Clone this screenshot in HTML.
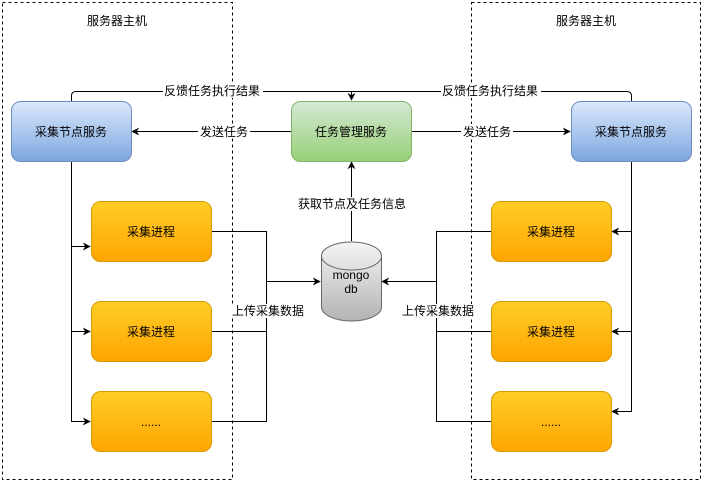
<!DOCTYPE html>
<html><head><meta charset="utf-8"><style>
body{margin:0;background:#fff;}
svg text{font-family:"Liberation Sans","Noto Sans CJK SC",sans-serif;font-size:12px;fill:#000;}
</style></head><body>
<svg width="703" height="483" viewBox="0 0 703 483" xmlns="http://www.w3.org/2000/svg">
<defs>
<linearGradient id="b" x1="0" y1="0" x2="0" y2="1"><stop offset="0" stop-color="#dae8fc"/><stop offset="1" stop-color="#7ea6e0"/></linearGradient>
<linearGradient id="g" x1="0" y1="0" x2="0" y2="1"><stop offset="0" stop-color="#d5e8d4"/><stop offset="1" stop-color="#97d077"/></linearGradient>
<linearGradient id="o" x1="0" y1="0" x2="0" y2="1"><stop offset="0" stop-color="#ffcd28"/><stop offset="1" stop-color="#ffa500"/></linearGradient>
<linearGradient id="c" x1="0" y1="0" x2="0" y2="1"><stop offset="0" stop-color="#f5f5f5"/><stop offset="1" stop-color="#b3b3b3"/></linearGradient>
<marker id="a" viewBox="0 0 10 10" refX="9" refY="5" markerWidth="8" markerHeight="8" orient="auto" markerUnits="userSpaceOnUse"><path d="M0,0 L10,5 L0,10 L3,5 Z" fill="#000"/></marker>
</defs>
<rect x="2.5" y="2.5" width="230" height="477" fill="none" stroke="#000" stroke-dasharray="3,3"/>
<rect x="471.5" y="2.5" width="229" height="477" fill="none" stroke="#000" stroke-dasharray="3,3"/>
<text x="117" y="25" text-anchor="middle">服务器主机</text>
<text x="586" y="25" text-anchor="middle">服务器主机</text>
<g fill="none" stroke="#000" stroke-width="1">
<path d="M71.5,101 V96 Q71.5,91.5 76,91.5 H351.5 V100" marker-end="url(#a)"/>
<path d="M631.5,101 V96 Q631.5,91.5 627,91.5 H351.5"/>
<path d="M291,131.5 H132" marker-end="url(#a)"/>
<path d="M411,131.5 H570" marker-end="url(#a)"/>
<path d="M351.5,241 V162" marker-end="url(#a)"/>
<path d="M71.5,161 V421.5 H90" marker-end="url(#a)"/>
<path d="M71.5,246.5 H90" marker-end="url(#a)"/>
<path d="M71.5,331.5 H90" marker-end="url(#a)"/>
<path d="M631.5,161 V411.5 H612" marker-end="url(#a)"/>
<path d="M631.5,231.5 H612" marker-end="url(#a)"/>
<path d="M631.5,331.5 H612" marker-end="url(#a)"/>
<path d="M211,231.5 H266.5 V421.5 H211 M211,331.5 H266.5"/>
<path d="M266.5,281.5 H320" marker-end="url(#a)"/>
<path d="M491,231.5 H436.5 V421.5 H491 M491,331.5 H436.5"/>
<path d="M436.5,281.5 H382" marker-end="url(#a)"/>
</g>
<g font-size="12">
<rect x="163" y="84" width="100" height="14" fill="#fff"/><text x="212" y="95" text-anchor="middle">反馈任务执行结果</text>
<rect x="441" y="84" width="100" height="14" fill="#fff"/><text x="490" y="95" text-anchor="middle">反馈任务执行结果</text>
<rect x="198" y="124" width="52" height="14" fill="#fff"/><text x="224" y="136" text-anchor="middle">发送任务</text>
<rect x="461" y="124" width="52" height="14" fill="#fff"/><text x="487" y="136" text-anchor="middle">发送任务</text>
<rect x="300" y="197" width="104" height="14" fill="#fff"/><text x="352" y="208" text-anchor="middle">获取节点及任务信息</text>
<rect x="231" y="304" width="74" height="14" fill="#fff"/><text x="268" y="315" text-anchor="middle">上传采集数据</text>
<rect x="401" y="304" width="74" height="14" fill="#fff"/><text x="438" y="315" text-anchor="middle">上传采集数据</text>
</g>
<rect x="11.5" y="101.5" width="120" height="60" rx="9" fill="url(#b)" stroke="#6c8ebf"/>
<text x="71" y="136" text-anchor="middle">采集节点服务</text>
<rect x="571.5" y="101.5" width="120" height="60" rx="9" fill="url(#b)" stroke="#6c8ebf"/>
<text x="631" y="136" text-anchor="middle">采集节点服务</text>
<rect x="291.5" y="101.5" width="120" height="60" rx="9" fill="url(#g)" stroke="#82b366"/>
<text x="351" y="136" text-anchor="middle">任务管理服务</text>
<g stroke="#d79b00">
<rect x="91.5" y="201.5" width="120" height="60" rx="9" fill="url(#o)"/>
<rect x="91.5" y="301.5" width="120" height="60" rx="9" fill="url(#o)"/>
<rect x="91.5" y="391.5" width="120" height="60" rx="9" fill="url(#o)"/>
<rect x="491.5" y="201.5" width="120" height="60" rx="9" fill="url(#o)"/>
<rect x="491.5" y="301.5" width="120" height="60" rx="9" fill="url(#o)"/>
<rect x="491.5" y="391.5" width="120" height="60" rx="9" fill="url(#o)"/>
</g>
<text x="151" y="236" text-anchor="middle">采集进程</text>
<text x="151" y="336" text-anchor="middle">采集进程</text>
<text x="151" y="426" text-anchor="middle">......</text>
<text x="551" y="236" text-anchor="middle">采集进程</text>
<text x="551" y="336" text-anchor="middle">采集进程</text>
<text x="551" y="426" text-anchor="middle">......</text>
<path d="M321.5,256 A30,14 0 0 1 381.5,256 V307 A30,14 0 0 1 321.5,307 Z" fill="url(#c)" stroke="#666"/>
<path d="M321.5,256 A30,14 0 0 0 381.5,256" fill="none" stroke="#666"/>
<text x="351" y="279" text-anchor="middle">mongo</text>
<text x="351" y="293" text-anchor="middle">db</text>
</svg>
</body></html>
